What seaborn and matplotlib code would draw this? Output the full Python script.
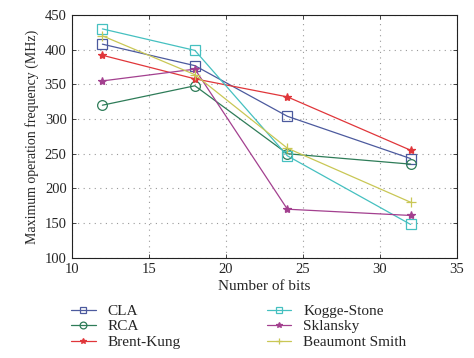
import matplotlib
matplotlib.use("Agg")
import matplotlib.pyplot as plt
import seaborn as sns

# ---- data ----
bits = [12, 18, 24, 32]
series_names = ["CLA", "RCA", "Brent-Kung", "Kogge-Stone", "Sklansky", "Beaumont Smith"]
cla = [408, 377, 304, 243]
rca = [320, 348, 250, 235]
brent_kung = [392, 358, 332, 255]
kogge_stone = [430, 399, 247, 148]
sklansky = [355, 372, 170, 161]
beaumont_smith = [420, 364, 258, 180]

values = [cla, rca, brent_kung, kogge_stone, sklansky, beaumont_smith]
colors = ["#4C5A9E", "#2E7C58", "#E0363A", "#45C0C0", "#A3408F", "#C9C755"]
markers = ["s", "o", "*", "s", "*", "+"]
hollow = [True, True, False, True, False, False]

sns.set_style("ticks")
plt.rcParams["font.family"] = ["Liberation Serif", "DejaVu Serif"]

fig = plt.figure(figsize=(4.74, 3.58), dpi=100)
ax = fig.add_axes([0.151, 0.280, 0.813, 0.678])

for name, vals, c, m, h in zip(series_names, values, colors, markers, hollow):
    sns.lineplot(x=bits, y=vals, ax=ax, color=c, marker=m, label=name,
                 markersize=7 if m != "*" else 6,
                 markerfacecolor="none" if h else c,
                 markeredgecolor=c, markeredgewidth=0.9, linewidth=0.9)

ax.set_xlim(10, 35)
ax.set_ylim(100, 450)
ax.set_xticks(range(10, 36, 5))
ax.set_yticks(range(100, 451, 50))
ax.grid(True, linestyle=(0, (1, 4)), color="#999999", linewidth=0.8)
for s in ax.spines.values():
    s.set_linewidth(0.8)
    s.set_color("#222222")
ax.tick_params(direction="in", length=3, width=0.6, labelsize=10.5, top=True, right=True)
ax.set_xlabel("Number of bits", fontsize=11, labelpad=3)
ax.set_ylabel("Maximum operation frequency (MHz)", fontsize=10, labelpad=4)

ax.legend(loc="upper left", bbox_to_anchor=(-0.005, -0.185), ncol=2, frameon=False,
          fontsize=11, handlelength=1.6, columnspacing=5.6, labelspacing=0.12,
          handletextpad=0.8, markerscale=0.7, borderpad=0.1, borderaxespad=0)

fig.savefig("out.png", dpi=100)
